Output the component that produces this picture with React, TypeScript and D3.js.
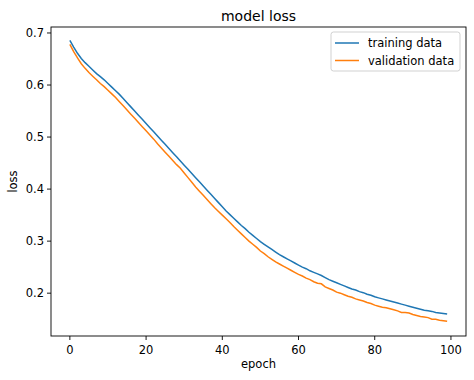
import React from "react";
import * as d3 from "d3";

const trainingLoss = [
  0.686, 0.673, 0.661, 0.651, 0.643, 0.636, 0.629, 0.622, 0.616, 0.610,
  0.603, 0.596, 0.589, 0.582, 0.574, 0.566, 0.558, 0.550, 0.542, 0.534,
  0.526, 0.518, 0.510, 0.502, 0.494, 0.486, 0.478, 0.470, 0.462, 0.454,
  0.446, 0.438, 0.430, 0.422, 0.414, 0.406, 0.398, 0.390, 0.382, 0.374,
  0.366, 0.358, 0.351, 0.344, 0.337, 0.330, 0.324, 0.317, 0.311, 0.305,
  0.299, 0.294, 0.289, 0.284, 0.279, 0.274, 0.270, 0.266, 0.262, 0.258,
  0.254, 0.250, 0.247, 0.243, 0.240, 0.237, 0.234, 0.230, 0.226, 0.223,
  0.220, 0.217, 0.214, 0.211, 0.208, 0.206, 0.203, 0.201, 0.198, 0.196,
  0.193, 0.191, 0.189, 0.187, 0.185, 0.183, 0.181, 0.179, 0.177, 0.175,
  0.173, 0.171, 0.169, 0.167, 0.166, 0.165, 0.163, 0.162, 0.161, 0.160,
];

const validationLoss = [
  0.678, 0.664, 0.652, 0.641, 0.632, 0.624, 0.617, 0.610, 0.603, 0.597,
  0.590, 0.583, 0.576, 0.568, 0.560, 0.552, 0.544, 0.536, 0.528, 0.520,
  0.512, 0.504, 0.496, 0.487, 0.479, 0.471, 0.463, 0.455, 0.447, 0.440,
  0.431, 0.422, 0.413, 0.404, 0.396, 0.388, 0.380, 0.372, 0.364, 0.357,
  0.350, 0.343, 0.336, 0.328, 0.321, 0.314, 0.307, 0.300, 0.294, 0.288,
  0.281, 0.276, 0.270, 0.265, 0.260, 0.256, 0.252, 0.248, 0.244, 0.240,
  0.236, 0.233, 0.229, 0.226, 0.222, 0.219, 0.218, 0.212, 0.209, 0.206,
  0.202, 0.200, 0.197, 0.194, 0.192, 0.189, 0.187, 0.185, 0.182, 0.180,
  0.177, 0.175, 0.173, 0.172, 0.170, 0.168, 0.166, 0.163, 0.163, 0.162,
  0.159, 0.157, 0.155, 0.154, 0.153, 0.150, 0.150, 0.148, 0.147, 0.146,
];

const xTicks = [0, 20, 40, 60, 80, 100];
const yTicks = [0.2, 0.3, 0.4, 0.5, 0.6, 0.7];
const seriesNames = ["training data", "validation data"];
const seriesColors = ["#1f77b4", "#ff7f0e"];

const W = 474;
const H = 380;
const M = { left: 51, right: 466, top: 27, bottom: 336 };
const FONT = "DejaVu Sans, sans-serif";
const FS = 11.5;

export default function App() {
  const x = d3.scaleLinear().domain([-4.95, 103.95]).range([M.left, M.right]);
  const y = d3.scaleLinear().domain([0.1177, 0.7115]).range([M.bottom, M.top]);
  const line = d3
    .line<number>()
    .x((_, i) => x(i))
    .y((d) => y(d));
  const series = [trainingLoss, validationLoss];

  return (
    <svg
      width={W}
      height={H}
      style={{ position: "absolute", left: 0, top: 0, background: "#fff" }}
      fontFamily={FONT}
    >
      <rect x={0} y={0} width={W} height={H} fill="#fff" />
      <text x={(M.left + M.right) / 2} y={20.5} textAnchor="middle" fontSize={14} fill="#000">
        model loss
      </text>

      {series.map((s, i) => (
        <path key={i} d={line(s) || ""} fill="none" stroke={seriesColors[i]} strokeWidth={1.5} />
      ))}

      <rect
        x={M.left}
        y={M.top}
        width={M.right - M.left}
        height={M.bottom - M.top}
        fill="none"
        stroke="#000"
        strokeWidth={0.9}
      />

      {xTicks.map((t) => (
        <g key={t}>
          <line x1={x(t)} x2={x(t)} y1={M.bottom} y2={M.bottom + 4} stroke="#000" strokeWidth={0.9} />
          <text x={x(t)} y={M.bottom + 17.5} textAnchor="middle" fontSize={FS} fill="#000">
            {t}
          </text>
        </g>
      ))}
      {yTicks.map((t) => (
        <g key={t}>
          <line x1={M.left - 4} x2={M.left} y1={y(t)} y2={y(t)} stroke="#000" strokeWidth={0.9} />
          <text x={M.left - 7} y={y(t) + 4} textAnchor="end" fontSize={FS} fill="#000">
            {t.toFixed(1)}
          </text>
        </g>
      ))}

      <text x={(M.left + M.right) / 2} y={368} textAnchor="middle" fontSize={FS} fill="#000">
        epoch
      </text>
      <text
        transform={`translate(17, ${(M.top + M.bottom) / 2}) rotate(-90)`}
        textAnchor="middle"
        fontSize={FS}
        fill="#000"
      >
        loss
      </text>

      <g>
        <rect x={331} y={32} width={129} height={39} rx={2.5} fill="#fff" fillOpacity={0.8} stroke="#cccccc" strokeWidth={0.9} />
        {seriesNames.map((n, i) => (
          <g key={n}>
            <line x1={335} x2={359} y1={43 + i * 17.5} y2={43 + i * 17.5} stroke={seriesColors[i]} strokeWidth={1.5} />
            <text x={368} y={47 + i * 17.5} fontSize={FS} fill="#000">
              {n}
            </text>
          </g>
        ))}
      </g>
    </svg>
  );
}
